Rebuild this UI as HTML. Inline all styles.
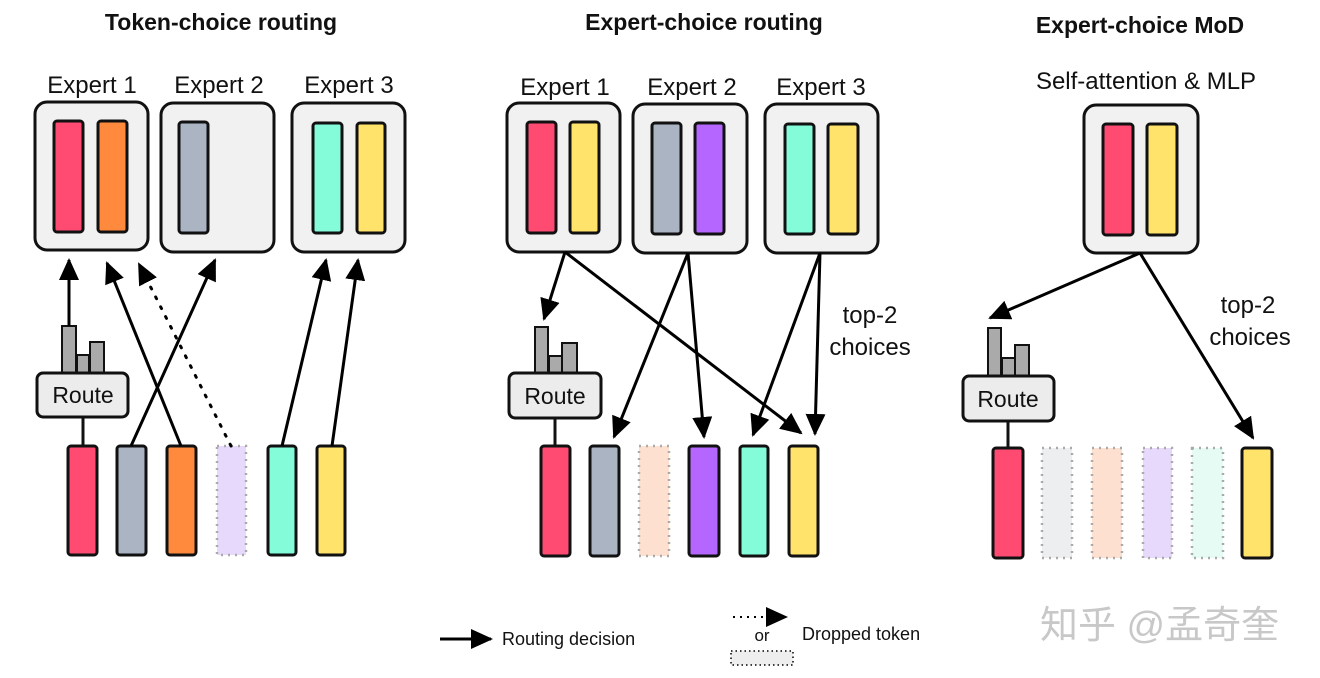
<!DOCTYPE html>
<html><head><meta charset="utf-8"><style>
html,body{margin:0;padding:0;background:#fff;}
svg{display:block;}
text{font-family:"Liberation Sans",Arial,sans-serif;fill:#111;}
</style></head><body>
<svg width="1320" height="678" viewBox="0 0 1320 678" xmlns="http://www.w3.org/2000/svg">
<defs>
<marker id="ah" markerUnits="userSpaceOnUse" markerWidth="24" markerHeight="22" refX="20" refY="10" orient="auto">
<path d="M0,0 L22,10 L0,20 Z" fill="#000"/></marker>
</defs>
<g text-anchor="middle" font-weight="bold" font-size="23">
<text x="221" y="30">Token-choice routing</text>
<text x="704" y="30">Expert-choice routing</text>
<text x="1140" y="33">Expert-choice MoD</text>
</g>
<g text-anchor="middle" font-size="24">
<text x="92" y="93">Expert 1</text>
<text x="219" y="93">Expert 2</text>
<text x="349" y="93">Expert 3</text>
<text x="565" y="95">Expert 1</text>
<text x="692" y="95">Expert 2</text>
<text x="821" y="95">Expert 3</text>
<text x="1146" y="89">Self-attention &amp; MLP</text>
<text x="870" y="323">top-2</text>
<text x="870" y="355">choices</text>
<text x="1248" y="313">top-2</text>
<text x="1250" y="345">choices</text>
</g>
<g stroke="#111" stroke-width="3" fill="#f1f1f1">
<rect x="35" y="102" width="113" height="148" rx="12"/>
<rect x="161" y="103" width="113" height="149" rx="12"/>
<rect x="292" y="103" width="113" height="149" rx="12"/>
<rect x="507" y="103" width="113" height="149" rx="12"/>
<rect x="633" y="104" width="114" height="149" rx="12"/>
<rect x="765" y="104" width="113" height="149" rx="12"/>
<rect x="1084" y="105" width="114" height="148" rx="12"/>
</g>
<g stroke="#111" stroke-width="3">
<rect x="54" y="121" width="29" height="111" rx="3" fill="#ff4a72"/>
<rect x="98" y="121" width="29" height="111" rx="3" fill="#ff8a3d"/>
<rect x="179" y="122" width="29" height="111" rx="3" fill="#aab4c2"/>
<rect x="313" y="123" width="29" height="110" rx="3" fill="#84fcd9"/>
<rect x="357" y="123" width="28" height="110" rx="3" fill="#ffe36b"/>
<rect x="527" y="122" width="29" height="111" rx="3" fill="#ff4a72"/>
<rect x="570" y="122" width="29" height="111" rx="3" fill="#ffe36b"/>
<rect x="652" y="123" width="29" height="111" rx="3" fill="#aab4c2"/>
<rect x="695" y="123" width="29" height="111" rx="3" fill="#b566ff"/>
<rect x="785" y="124" width="29" height="110" rx="3" fill="#84fcd9"/>
<rect x="828" y="124" width="30" height="110" rx="3" fill="#ffe36b"/>
<rect x="1103" y="124" width="30" height="111" rx="3" fill="#ff4a72"/>
<rect x="1147" y="124" width="30" height="111" rx="3" fill="#ffe36b"/>
<rect x="68" y="446" width="29" height="109" rx="3" fill="#ff4a72"/>
<rect x="117" y="446" width="29" height="109" rx="3" fill="#aab4c2"/>
<rect x="167" y="446" width="29" height="109" rx="3" fill="#ff8a3d"/>
<rect x="268" y="446" width="28" height="109" rx="3" fill="#84fcd9"/>
<rect x="317" y="446" width="28" height="109" rx="3" fill="#ffe36b"/>
<rect x="541" y="446" width="29" height="110" rx="3" fill="#ff4a72"/>
<rect x="590" y="446" width="29" height="110" rx="3" fill="#aab4c2"/>
<rect x="689" y="446" width="30" height="110" rx="3" fill="#b566ff"/>
<rect x="740" y="446" width="28" height="110" rx="3" fill="#84fcd9"/>
<rect x="789" y="446" width="29" height="110" rx="3" fill="#ffe36b"/>
<rect x="993" y="448" width="30" height="110" rx="3" fill="#ff4a72"/>
<rect x="1242" y="448" width="30" height="110" rx="3" fill="#ffe36b"/>
</g>
<g stroke="#aaa" stroke-width="2.5" stroke-dasharray="2 5">
<rect x="217" y="446" width="29" height="109" fill="#e6d9fb"/>
<rect x="639" y="446" width="30" height="110" fill="#fde0d0"/>
<rect x="1042" y="448" width="30" height="110" fill="#eceef0"/>
<rect x="1092" y="448" width="30" height="110" fill="#fde0d0"/>
<rect x="1143" y="448" width="29" height="110" fill="#e6d9fb"/>
<rect x="1192" y="448" width="31" height="110" fill="#e5fbf4"/>
</g>
<g stroke="#111" stroke-width="3">
<line x1="83" y1="417" x2="83" y2="446"/>
<line x1="555" y1="418" x2="555" y2="446"/>
<line x1="1008" y1="421" x2="1008" y2="448"/>
</g>
<g stroke="#111" stroke-width="2" fill="#aaa">
<rect x="62" y="326" width="14" height="47"/><rect x="77" y="355" width="12" height="18"/><rect x="90" y="342" width="14" height="31"/>
<rect x="535" y="327" width="13" height="46"/><rect x="549" y="356" width="13" height="17"/><rect x="562" y="343" width="15" height="30"/>
<rect x="988" y="328" width="13" height="48"/><rect x="1002" y="358" width="13" height="18"/><rect x="1015" y="345" width="14" height="31"/>
</g>
<g stroke="#111" stroke-width="3" fill="#ececec">
<rect x="37" y="373" width="91" height="44" rx="6"/>
<rect x="509" y="373" width="92" height="45" rx="6"/>
<rect x="963" y="376" width="91" height="45" rx="6"/>
</g>
<g text-anchor="middle" font-size="23">
<text x="83" y="403">Route</text>
<text x="555" y="404">Route</text>
<text x="1008" y="407">Route</text>
</g>
<g stroke="#000" stroke-width="3" marker-end="url(#ah)">
<line x1="69" y1="326" x2="69" y2="260"/>
<line x1="181" y1="446" x2="107" y2="263"/>
<line x1="131" y1="446" x2="215" y2="260"/>
<line x1="282" y1="446" x2="326" y2="260"/>
<line x1="332" y1="446" x2="358" y2="260"/>
<line x1="565" y1="252" x2="544" y2="319"/>
<line x1="565" y1="252" x2="801" y2="433"/>
<line x1="688" y1="253" x2="614" y2="437"/>
<line x1="688" y1="253" x2="704" y2="437"/>
<line x1="820" y1="253" x2="753" y2="435"/>
<line x1="820" y1="253" x2="815" y2="434"/>
<line x1="1140" y1="253" x2="990" y2="318"/>
<line x1="1140" y1="253" x2="1253" y2="438"/>
<line x1="440" y1="639" x2="491" y2="639"/>
</g>
<line x1="231" y1="446" x2="139" y2="264" stroke="#000" stroke-width="3" stroke-dasharray="2 9" stroke-linecap="round" marker-end="url(#ah)"/>
<text x="502" y="645" font-size="18">Routing decision</text>
<line x1="733" y1="617" x2="786" y2="617" stroke="#000" stroke-width="2" stroke-dasharray="2 5" marker-end="url(#ah)"/>
<text x="762" y="641" font-size="17" text-anchor="middle">or</text>
<rect x="731" y="651" width="62" height="14" fill="#eee" stroke="#000" stroke-width="1.5" stroke-dasharray="1.5 3"/>
<text x="802" y="640" font-size="18">Dropped token</text>
<text x="1040" y="638" font-size="38" style="fill:#c8c8c8;font-family:'Liberation Sans','Noto Sans CJK SC',sans-serif">知乎 @孟奇奎</text>
</svg>
</body></html>
